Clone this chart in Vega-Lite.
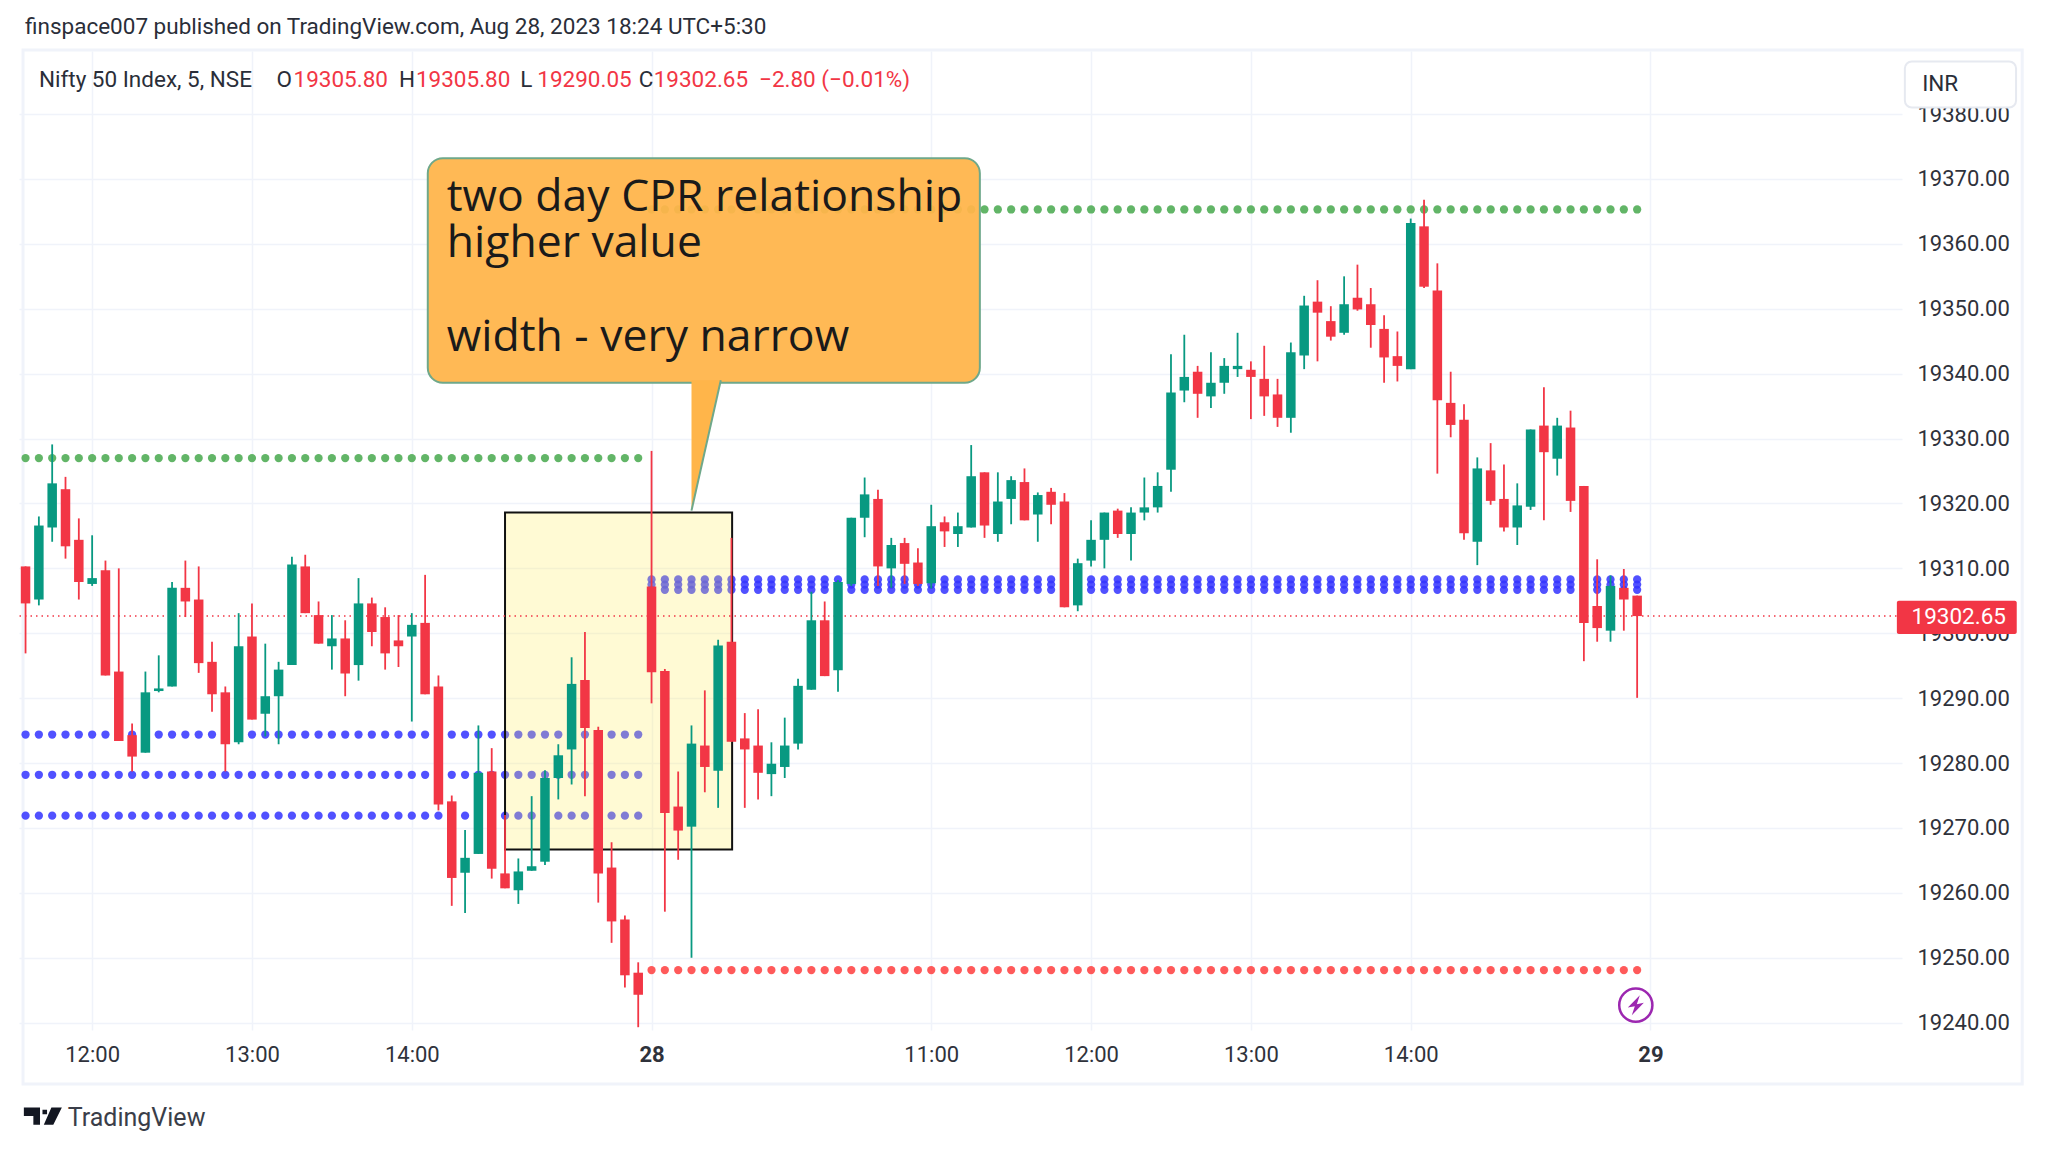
{
  "$schema": "https://vega.github.io/schema/vega-lite/v6.json",
  "width": 1883,
  "height": 979,
  "autosize": {"type": "none"},
  "padding": {"left": 19, "top": 51, "right": 146, "bottom": 122},
  "background": "#ffffff",
  "resolve": {"scale": {"color": "independent"}},
  "config": {
    "view": {"stroke": null},
    "text": {"font": "Roboto"},
    "axis": {"labelFont": "Roboto", "labelFontSize": 22, "labelColor": "#2f323b", "gridColor": "#f0f3fa", "gridWidth": 1.5, "domain": false, "ticks": false}
  },
  "datasets": {
    "bars": [
      {"i":-5,"o":19310.3,"h":19310.3,"l":19296.9,"c":19304.6,"R":19327,"TC":19284.4,"P":19278.2,"BC":19271.9},
      {"i":-4,"o":19305.2,"h":19318,"l":19304.3,"c":19316.6,"R":19327,"TC":19284.4,"P":19278.2,"BC":19271.9},
      {"i":-3,"o":19316.3,"h":19329.1,"l":19314.1,"c":19323.1,"R":19327,"TC":19284.4,"P":19278.2,"BC":19271.9},
      {"i":-2,"o":19322.2,"h":19324.1,"l":19311.5,"c":19313.4,"R":19327,"TC":19284.4,"P":19278.2,"BC":19271.9},
      {"i":-1,"o":19314.4,"h":19317.7,"l":19305.2,"c":19307.9,"R":19327,"TC":19284.4,"P":19278.2,"BC":19271.9},
      {"i":0,"o":19307.6,"h":19315.1,"l":19307.3,"c":19308.5,"R":19327,"TC":19284.4,"P":19278.2,"BC":19271.9},
      {"i":1,"o":19309.7,"h":19311.2,"l":19293.5,"c":19293.5,"R":19327,"TC":19284.4,"P":19278.2,"BC":19271.9},
      {"i":2,"o":19294.1,"h":19310,"l":19283.4,"c":19283.4,"R":19327,"TC":19284.4,"P":19278.2,"BC":19271.9},
      {"i":3,"o":19284.3,"h":19286.1,"l":19278.7,"c":19281,"R":19327,"TC":19284.4,"P":19278.2,"BC":19271.9},
      {"i":4,"o":19281.6,"h":19294.1,"l":19281.6,"c":19290.9,"R":19327,"TC":19284.4,"P":19278.2,"BC":19271.9},
      {"i":5,"o":19291.1,"h":19296.6,"l":19290.9,"c":19291.5,"R":19327,"TC":19284.4,"P":19278.2,"BC":19271.9},
      {"i":6,"o":19291.8,"h":19307.9,"l":19291.8,"c":19307,"R":19327,"TC":19284.4,"P":19278.2,"BC":19271.9},
      {"i":7,"o":19307,"h":19311.2,"l":19302.5,"c":19304.9,"R":19327,"TC":19284.4,"P":19278.2,"BC":19271.9},
      {"i":8,"o":19305.2,"h":19310.3,"l":19293.9,"c":19295.4,"R":19327,"TC":19284.4,"P":19278.2,"BC":19271.9},
      {"i":9,"o":19295.6,"h":19298.7,"l":19287.9,"c":19290.6,"R":19327,"TC":19284.4,"P":19278.2,"BC":19271.9},
      {"i":10,"o":19290.9,"h":19291.8,"l":19278.7,"c":19282.9,"R":19327,"TC":19284.4,"P":19278.2,"BC":19271.9},
      {"i":11,"o":19283.2,"h":19303.1,"l":19282.9,"c":19298,"R":19327,"TC":19284.4,"P":19278.2,"BC":19271.9},
      {"i":12,"o":19299.5,"h":19304.6,"l":19286.7,"c":19286.7,"R":19327,"TC":19284.4,"P":19278.2,"BC":19271.9},
      {"i":13,"o":19287.6,"h":19298.4,"l":19284.1,"c":19290.3,"R":19327,"TC":19284.4,"P":19278.2,"BC":19271.9},
      {"i":14,"o":19290.3,"h":19295.6,"l":19282.9,"c":19294.4,"R":19327,"TC":19284.4,"P":19278.2,"BC":19271.9},
      {"i":15,"o":19295.1,"h":19311.8,"l":19295.1,"c":19310.6,"R":19327,"TC":19284.4,"P":19278.2,"BC":19271.9},
      {"i":16,"o":19310.3,"h":19312.1,"l":19303.1,"c":19303.1,"R":19327,"TC":19284.4,"P":19278.2,"BC":19271.9},
      {"i":17,"o":19302.8,"h":19304.9,"l":19298.4,"c":19298.4,"R":19327,"TC":19284.4,"P":19278.2,"BC":19271.9},
      {"i":18,"o":19298,"h":19302.8,"l":19294.4,"c":19299.2,"R":19327,"TC":19284.4,"P":19278.2,"BC":19271.9},
      {"i":19,"o":19299.2,"h":19302,"l":19290.3,"c":19293.8,"R":19327,"TC":19284.4,"P":19278.2,"BC":19271.9},
      {"i":20,"o":19295.1,"h":19308.5,"l":19292.7,"c":19304.6,"R":19327,"TC":19284.4,"P":19278.2,"BC":19271.9},
      {"i":21,"o":19304.6,"h":19305.5,"l":19298,"c":19300.2,"R":19327,"TC":19284.4,"P":19278.2,"BC":19271.9},
      {"i":22,"o":19302.5,"h":19304,"l":19294.4,"c":19296.9,"R":19327,"TC":19284.4,"P":19278.2,"BC":19271.9},
      {"i":23,"o":19298.9,"h":19302.8,"l":19294.8,"c":19298,"R":19327,"TC":19284.4,"P":19278.2,"BC":19271.9},
      {"i":24,"o":19299.5,"h":19303.1,"l":19286.4,"c":19301.3,"R":19327,"TC":19284.4,"P":19278.2,"BC":19271.9},
      {"i":25,"o":19301.6,"h":19309,"l":19290.6,"c":19290.6,"R":19327,"TC":19284.4,"P":19278.2,"BC":19271.9},
      {"i":26,"o":19291.8,"h":19293.5,"l":19272.7,"c":19273.6,"R":19327,"TC":19284.4,"P":19278.2,"BC":19271.9},
      {"i":27,"o":19274.1,"h":19275,"l":19258,"c":19262.3,"R":19327,"TC":19284.4,"P":19278.2,"BC":19271.9},
      {"i":28,"o":19263.1,"h":19269.7,"l":19256.9,"c":19265.4,"R":19327,"TC":19284.4,"P":19278.2,"BC":19271.9},
      {"i":29,"o":19266,"h":19285.8,"l":19266,"c":19278.5,"R":19327,"TC":19284.4,"P":19278.2,"BC":19271.9},
      {"i":30,"o":19278.7,"h":19282.3,"l":19262.2,"c":19263.7,"R":19327,"TC":19284.4,"P":19278.2,"BC":19271.9},
      {"i":31,"o":19263,"h":19272,"l":19260.7,"c":19260.7,"R":19327,"TC":19284.4,"P":19278.2,"BC":19271.9},
      {"i":32,"o":19260.4,"h":19265.3,"l":19258.3,"c":19263.3,"R":19327,"TC":19284.4,"P":19278.2,"BC":19271.9},
      {"i":33,"o":19263.4,"h":19274.9,"l":19263.4,"c":19264.1,"R":19327,"TC":19284.4,"P":19278.2,"BC":19271.9},
      {"i":34,"o":19264.8,"h":19278.9,"l":19264.3,"c":19277.7,"R":19327,"TC":19284.4,"P":19278.2,"BC":19271.9},
      {"i":35,"o":19277.7,"h":19282.9,"l":19274.4,"c":19281.2,"R":19327,"TC":19284.4,"P":19278.2,"BC":19271.9},
      {"i":36,"o":19282.1,"h":19296.3,"l":19276.7,"c":19292.2,"R":19327,"TC":19284.4,"P":19278.2,"BC":19271.9},
      {"i":37,"o":19292.8,"h":19300.2,"l":19274.9,"c":19285.4,"R":19327,"TC":19284.4,"P":19278.2,"BC":19271.9},
      {"i":38,"o":19285.1,"h":19285.6,"l":19258.5,"c":19263,"R":19327,"TC":19284.4,"P":19278.2,"BC":19271.9},
      {"i":39,"o":19263.9,"h":19267.8,"l":19252.3,"c":19255.6,"R":19327,"TC":19284.4,"P":19278.2,"BC":19271.9},
      {"i":40,"o":19255.9,"h":19256.5,"l":19245.4,"c":19247.3,"R":19327,"TC":19284.4,"P":19278.2,"BC":19271.9},
      {"i":41,"o":19247.7,"h":19249.3,"l":19239.3,"c":19244.3,"R":19327,"TC":19284.4,"P":19278.2,"BC":19271.9},
      {"i":42,"o":19307.2,"h":19328.1,"l":19289.2,"c":19294,"R":19365.3,"S":19248.1,"TC":19308.3,"P":19307.5,"BC":19306.7},
      {"i":43,"o":19294.2,"h":19294.5,"l":19257.1,"c":19272.3,"R":19365.3,"S":19248.1,"TC":19308.3,"P":19307.5,"BC":19306.7},
      {"i":44,"o":19273.3,"h":19278.7,"l":19265.1,"c":19269.6,"R":19365.3,"S":19248.1,"TC":19308.3,"P":19307.5,"BC":19306.7},
      {"i":45,"o":19270.2,"h":19285.8,"l":19250,"c":19283,"R":19365.3,"S":19248.1,"TC":19308.3,"P":19307.5,"BC":19306.7},
      {"i":46,"o":19282.7,"h":19291.2,"l":19275.5,"c":19279.4,"R":19365.3,"S":19248.1,"TC":19308.3,"P":19307.5,"BC":19306.7},
      {"i":47,"o":19278.8,"h":19299,"l":19273.1,"c":19298.1,"R":19365.3,"S":19248.1,"TC":19308.3,"P":19307.5,"BC":19306.7},
      {"i":48,"o":19298.7,"h":19314.7,"l":19283.3,"c":19283.3,"R":19365.3,"S":19248.1,"TC":19308.3,"P":19307.5,"BC":19306.7},
      {"i":49,"o":19283.8,"h":19287.7,"l":19273.1,"c":19282.1,"R":19365.3,"S":19248.1,"TC":19308.3,"P":19307.5,"BC":19306.7},
      {"i":50,"o":19282.7,"h":19288.3,"l":19274.4,"c":19278.5,"R":19365.3,"S":19248.1,"TC":19308.3,"P":19307.5,"BC":19306.7},
      {"i":51,"o":19278.3,"h":19283.2,"l":19274.9,"c":19279.9,"R":19365.3,"S":19248.1,"TC":19308.3,"P":19307.5,"BC":19306.7},
      {"i":52,"o":19279.4,"h":19287,"l":19277.7,"c":19282.7,"R":19365.3,"S":19248.1,"TC":19308.3,"P":19307.5,"BC":19306.7},
      {"i":53,"o":19283,"h":19293,"l":19282.1,"c":19291.9,"R":19365.3,"S":19248.1,"TC":19308.3,"P":19307.5,"BC":19306.7},
      {"i":54,"o":19291.3,"h":19306.4,"l":19291.3,"c":19302,"R":19365.3,"S":19248.1,"TC":19308.3,"P":19307.5,"BC":19306.7},
      {"i":55,"o":19302,"h":19304.9,"l":19293.4,"c":19293.4,"R":19365.3,"S":19248.1,"TC":19308.3,"P":19307.5,"BC":19306.7},
      {"i":56,"o":19294.3,"h":19308.2,"l":19291,"c":19307.9,"R":19365.3,"S":19248.1,"TC":19308.3,"P":19307.5,"BC":19306.7},
      {"i":57,"o":19307.6,"h":19317.8,"l":19307.3,"c":19317.8,"R":19365.3,"S":19248.1,"TC":19308.3,"P":19307.5,"BC":19306.7},
      {"i":58,"o":19317.8,"h":19324,"l":19314.8,"c":19321.4,"R":19365.3,"S":19248.1,"TC":19308.3,"P":19307.5,"BC":19306.7},
      {"i":59,"o":19320.7,"h":19322.1,"l":19307.3,"c":19310.3,"R":19365.3,"S":19248.1,"TC":19308.3,"P":19307.5,"BC":19306.7},
      {"i":60,"o":19310,"h":19314.7,"l":19307,"c":19313.6,"R":19365.3,"S":19248.1,"TC":19308.3,"P":19307.5,"BC":19306.7},
      {"i":61,"o":19313.9,"h":19314.7,"l":19307.6,"c":19310.7,"R":19365.3,"S":19248.1,"TC":19308.3,"P":19307.5,"BC":19306.7},
      {"i":62,"o":19310.9,"h":19313.1,"l":19307.3,"c":19307.6,"R":19365.3,"S":19248.1,"TC":19308.3,"P":19307.5,"BC":19306.7},
      {"i":63,"o":19307.7,"h":19319.8,"l":19306.9,"c":19316.5,"R":19365.3,"S":19248.1,"TC":19308.3,"P":19307.5,"BC":19306.7},
      {"i":64,"o":19317.1,"h":19318,"l":19313.3,"c":19315.7,"R":19365.3,"S":19248.1,"TC":19308.3,"P":19307.5,"BC":19306.7},
      {"i":65,"o":19315.3,"h":19318.6,"l":19313.3,"c":19316.5,"R":19365.3,"S":19248.1,"TC":19308.3,"P":19307.5,"BC":19306.7},
      {"i":66,"o":19316.3,"h":19329,"l":19316.3,"c":19324.2,"R":19365.3,"S":19248.1,"TC":19308.3,"P":19307.5,"BC":19306.7},
      {"i":67,"o":19324.8,"h":19324.8,"l":19314.7,"c":19316.6,"R":19365.3,"S":19248.1,"TC":19308.3,"P":19307.5,"BC":19306.7},
      {"i":68,"o":19315.3,"h":19324.8,"l":19314.1,"c":19320.3,"R":19365.3,"S":19248.1,"TC":19308.3,"P":19307.5,"BC":19306.7},
      {"i":69,"o":19320.7,"h":19324.2,"l":19316.8,"c":19323.6,"R":19365.3,"S":19248.1,"TC":19308.3,"P":19307.5,"BC":19306.7},
      {"i":70,"o":19323.3,"h":19325.4,"l":19317.4,"c":19317.4,"R":19365.3,"S":19248.1,"TC":19308.3,"P":19307.5,"BC":19306.7},
      {"i":71,"o":19318.3,"h":19321.7,"l":19314.1,"c":19321.3,"R":19365.3,"S":19248.1,"TC":19308.3,"P":19307.5,"BC":19306.7},
      {"i":72,"o":19321.8,"h":19322.4,"l":19316.8,"c":19319.8,"R":19365.3,"S":19248.1,"TC":19308.3,"P":19307.5,"BC":19306.7},
      {"i":73,"o":19320.3,"h":19321.6,"l":19304,"c":19304,"R":19365.3,"S":19248.1,"TC":19308.3,"P":19307.5,"BC":19306.7},
      {"i":74,"o":19304.3,"h":19311.5,"l":19303.4,"c":19310.8,"R":19365.3,"S":19248.1,"TC":19308.3,"P":19307.5,"BC":19306.7},
      {"i":75,"o":19311.2,"h":19317.4,"l":19310.3,"c":19314.4,"R":19365.3,"S":19248.1,"TC":19308.3,"P":19307.5,"BC":19306.7},
      {"i":76,"o":19314.4,"h":19318.6,"l":19310,"c":19318.6,"R":19365.3,"S":19248.1,"TC":19308.3,"P":19307.5,"BC":19306.7},
      {"i":77,"o":19318.9,"h":19319.2,"l":19314.7,"c":19315.3,"R":19365.3,"S":19248.1,"TC":19308.3,"P":19307.5,"BC":19306.7},
      {"i":78,"o":19315.3,"h":19319.4,"l":19311.2,"c":19318.6,"R":19365.3,"S":19248.1,"TC":19308.3,"P":19307.5,"BC":19306.7},
      {"i":79,"o":19318.6,"h":19324,"l":19317.4,"c":19319.4,"R":19365.3,"S":19248.1,"TC":19308.3,"P":19307.5,"BC":19306.7},
      {"i":80,"o":19319.4,"h":19324.8,"l":19318.6,"c":19322.7,"R":19365.3,"S":19248.1,"TC":19308.3,"P":19307.5,"BC":19306.7},
      {"i":81,"o":19325.2,"h":19343,"l":19321.8,"c":19337.1,"R":19365.3,"S":19248.1,"TC":19308.3,"P":19307.5,"BC":19306.7},
      {"i":82,"o":19337.4,"h":19346,"l":19335.6,"c":19339.5,"R":19365.3,"S":19248.1,"TC":19308.3,"P":19307.5,"BC":19306.7},
      {"i":83,"o":19340.3,"h":19341.2,"l":19333.2,"c":19336.9,"R":19365.3,"S":19248.1,"TC":19308.3,"P":19307.5,"BC":19306.7},
      {"i":84,"o":19336.5,"h":19343.3,"l":19334.7,"c":19338.6,"R":19365.3,"S":19248.1,"TC":19308.3,"P":19307.5,"BC":19306.7},
      {"i":85,"o":19338.6,"h":19342.4,"l":19336.9,"c":19341.2,"R":19365.3,"S":19248.1,"TC":19308.3,"P":19307.5,"BC":19306.7},
      {"i":86,"o":19340.7,"h":19346.3,"l":19339.5,"c":19341.2,"R":19365.3,"S":19248.1,"TC":19308.3,"P":19307.5,"BC":19306.7},
      {"i":87,"o":19340.6,"h":19341.9,"l":19333,"c":19339.5,"R":19365.3,"S":19248.1,"TC":19308.3,"P":19307.5,"BC":19306.7},
      {"i":88,"o":19339.2,"h":19344.3,"l":19333.5,"c":19336.5,"R":19365.3,"S":19248.1,"TC":19308.3,"P":19307.5,"BC":19306.7},
      {"i":89,"o":19336.8,"h":19339.2,"l":19331.8,"c":19333.2,"R":19365.3,"S":19248.1,"TC":19308.3,"P":19307.5,"BC":19306.7},
      {"i":90,"o":19333.2,"h":19344.8,"l":19330.9,"c":19343.3,"R":19365.3,"S":19248.1,"TC":19308.3,"P":19307.5,"BC":19306.7},
      {"i":91,"o":19342.8,"h":19352,"l":19340.7,"c":19350.5,"R":19365.3,"S":19248.1,"TC":19308.3,"P":19307.5,"BC":19306.7},
      {"i":92,"o":19351.1,"h":19354.4,"l":19341.9,"c":19349.4,"R":19365.3,"S":19248.1,"TC":19308.3,"P":19307.5,"BC":19306.7},
      {"i":93,"o":19348.1,"h":19350.4,"l":19345.1,"c":19345.7,"R":19365.3,"S":19248.1,"TC":19308.3,"P":19307.5,"BC":19306.7},
      {"i":94,"o":19346.3,"h":19355,"l":19346,"c":19350.7,"R":19365.3,"S":19248.1,"TC":19308.3,"P":19307.5,"BC":19306.7},
      {"i":95,"o":19351.7,"h":19356.8,"l":19349.7,"c":19349.9,"R":19365.3,"S":19248.1,"TC":19308.3,"P":19307.5,"BC":19306.7},
      {"i":96,"o":19350.7,"h":19353.2,"l":19344,"c":19347.5,"R":19365.3,"S":19248.1,"TC":19308.3,"P":19307.5,"BC":19306.7},
      {"i":97,"o":19346.9,"h":19349,"l":19338.6,"c":19342.5,"R":19365.3,"S":19248.1,"TC":19308.3,"P":19307.5,"BC":19306.7},
      {"i":98,"o":19342.7,"h":19346.5,"l":19338.8,"c":19341.2,"R":19365.3,"S":19248.1,"TC":19308.3,"P":19307.5,"BC":19306.7},
      {"i":99,"o":19340.7,"h":19363.9,"l":19340.7,"c":19363.2,"R":19365.3,"S":19248.1,"TC":19308.3,"P":19307.5,"BC":19306.7},
      {"i":100,"o":19362.7,"h":19366.8,"l":19353.2,"c":19353.4,"R":19365.3,"S":19248.1,"TC":19308.3,"P":19307.5,"BC":19306.7},
      {"i":101,"o":19352.8,"h":19357,"l":19324.6,"c":19335.9,"R":19365.3,"S":19248.1,"TC":19308.3,"P":19307.5,"BC":19306.7},
      {"i":102,"o":19335.5,"h":19340.3,"l":19330.2,"c":19332.1,"R":19365.3,"S":19248.1,"TC":19308.3,"P":19307.5,"BC":19306.7},
      {"i":103,"o":19332.9,"h":19335.3,"l":19314.4,"c":19315.4,"R":19365.3,"S":19248.1,"TC":19308.3,"P":19307.5,"BC":19306.7},
      {"i":104,"o":19314.1,"h":19327.1,"l":19310.5,"c":19325.4,"R":19365.3,"S":19248.1,"TC":19308.3,"P":19307.5,"BC":19306.7},
      {"i":105,"o":19325.1,"h":19329.3,"l":19319.8,"c":19320.4,"R":19365.3,"S":19248.1,"TC":19308.3,"P":19307.5,"BC":19306.7},
      {"i":106,"o":19320.7,"h":19326,"l":19315.7,"c":19316.3,"R":19365.3,"S":19248.1,"TC":19308.3,"P":19307.5,"BC":19306.7},
      {"i":107,"o":19316.3,"h":19323.1,"l":19313.6,"c":19319.7,"R":19365.3,"S":19248.1,"TC":19308.3,"P":19307.5,"BC":19306.7},
      {"i":108,"o":19319.5,"h":19331.4,"l":19319,"c":19331.4,"R":19365.3,"S":19248.1,"TC":19308.3,"P":19307.5,"BC":19306.7},
      {"i":109,"o":19332,"h":19337.9,"l":19317.4,"c":19327.9,"R":19365.3,"S":19248.1,"TC":19308.3,"P":19307.5,"BC":19306.7},
      {"i":110,"o":19326.9,"h":19333.2,"l":19324.3,"c":19332,"R":19365.3,"S":19248.1,"TC":19308.3,"P":19307.5,"BC":19306.7},
      {"i":111,"o":19331.7,"h":19334.3,"l":19318.7,"c":19320.4,"R":19365.3,"S":19248.1,"TC":19308.3,"P":19307.5,"BC":19306.7},
      {"i":112,"o":19322.7,"h":19322.7,"l":19295.7,"c":19301.6,"R":19365.3,"S":19248.1,"TC":19308.3,"P":19307.5,"BC":19306.7},
      {"i":113,"o":19304.2,"h":19311.4,"l":19298.7,"c":19300.8,"R":19365.3,"S":19248.1,"TC":19308.3,"P":19307.5,"BC":19306.7},
      {"i":114,"o":19300.4,"h":19308.9,"l":19298.7,"c":19307.3,"R":19365.3,"S":19248.1,"TC":19308.3,"P":19307.5,"BC":19306.7},
      {"i":115,"o":19307,"h":19309.9,"l":19300.4,"c":19305.2,"R":19365.3,"S":19248.1,"TC":19308.3,"P":19307.5,"BC":19306.7},
      {"i":116,"o":19305.8,"h":19305.8,"l":19290.05,"c":19302.65,"R":19365.3,"S":19248.1,"TC":19308.3,"P":19307.5,"BC":19306.7}
    ]
  },
  "layer": [
    {
      "data": {"values": [{"i": -5.19, "i2": 144.91, "p": 19389.88, "p2": 19230.55}]},
      "mark": {"type": "rect", "fill": null, "stroke": "#f0f3fa", "strokeWidth": 3, "clip": false},
      "encoding": {
        "x": {"field": "i", "type": "quantitative", "title": null, "scale": {"domain": [-5.116, 135.51], "nice": false, "zero": false},
          "axis": {"values": [0, 12, 24, 42, 63, 75, 87, 99, 117], "grid": true, "labelPadding": 14,
            "labelExpr": "{'0':'12:00','12':'13:00','24':'14:00','42':'28','63':'11:00','75':'12:00','87':'13:00','99':'14:00','117':'29'}[datum.value]",
            "labelFontWeight": {"condition": {"test": "datum.value == 42 || datum.value == 117", "value": "bold"}, "value": "normal"}}},
        "x2": {"field": "i2"},
        "y": {"field": "p", "type": "quantitative", "title": null, "scale": {"domain": [19238.87, 19389.72], "nice": false, "zero": false},
          "axis": {"orient": "right", "values": [19240,19250,19260,19270,19280,19290,19300,19310,19320,19330,19340,19350,19360,19370,19380], "grid": true, "format": ".2f", "labelPadding": 15, "labelAlign": "left"}},
        "y2": {"field": "p2"}
      }
    },
    {
      "data": {"name": "bars"},
      "transform": [
        {"fold": ["R", "S", "TC", "P", "BC"], "as": ["level", "price"]},
        {"filter": "isValid(datum.price)"}
      ],
      "mark": {"type": "point", "filled": true, "size": 68, "opacity": 0.85, "clip": true},
      "encoding": {
        "x": {"field": "i", "type": "quantitative", "title": null, "scale": {"domain": [-5.116, 135.51], "nice": false, "zero": false}},
        "y": {"field": "price", "type": "quantitative", "title": null, "scale": {"domain": [19238.87, 19389.72], "nice": false, "zero": false}},
        "color": {"field": "level", "type": "nominal", "legend": null,
          "scale": {"domain": ["R", "S", "TC", "P", "BC"], "range": ["#47a84c", "#ff3d3d", "#3333ff", "#3333ff", "#3333ff"]}}
      }
    },
    {
      "data": {"values": [{"i": 31, "i2": 48.05, "p": 19318.6, "p2": 19266.7}]},
      "mark": {"type": "rect", "fill": "#ffeb60", "fillOpacity": 0.27, "stroke": "#111111", "strokeWidth": 2},
      "encoding": {
        "x": {"field": "i", "type": "quantitative", "title": null, "scale": {"domain": [-5.116, 135.51], "nice": false, "zero": false}},
        "x2": {"field": "i2"},
        "y": {"field": "p", "type": "quantitative", "title": null, "scale": {"domain": [19238.87, 19389.72], "nice": false, "zero": false}},
        "y2": {"field": "p2"}
      }
    },
    {
      "data": {"values": [{"p": 19302.65}]},
      "mark": {"type": "rule", "color": "#f23645", "strokeWidth": 1.5, "strokeDash": [1.5, 4]},
      "encoding": {
        "y": {"field": "p", "type": "quantitative", "title": null, "scale": {"domain": [19238.87, 19389.72], "nice": false, "zero": false}}
      }
    },
    {
      "data": {"name": "bars"},
      "mark": {"type": "rule", "strokeWidth": 1.8, "clip": true},
      "encoding": {
        "x": {"field": "i", "type": "quantitative", "title": null, "scale": {"domain": [-5.116, 135.51], "nice": false, "zero": false}},
        "y": {"field": "l", "type": "quantitative", "title": null, "scale": {"domain": [19238.87, 19389.72], "nice": false, "zero": false}},
        "y2": {"field": "h"},
        "color": {"condition": {"test": "datum.c >= datum.o", "value": "#089981"}, "value": "#f23645"}
      }
    },
    {
      "data": {"name": "bars"},
      "mark": {"type": "bar", "size": 9.5, "clip": true},
      "encoding": {
        "x": {"field": "i", "type": "quantitative", "title": null, "scale": {"domain": [-5.116, 135.51], "nice": false, "zero": false}},
        "y": {"field": "o", "type": "quantitative", "title": null, "scale": {"domain": [19238.87, 19389.72], "nice": false, "zero": false}},
        "y2": {"field": "c"},
        "color": {"condition": {"test": "datum.c >= datum.o", "value": "#089981"}, "value": "#f23645"}
      }
    },
    {
      "data": {"values": [{"i": 25.2, "i2": 66.65, "p": 19373.2, "p2": 19338.6}]},
      "mark": {"type": "rect", "fill": "#ffb54a", "fillOpacity": 0.94, "stroke": "#6fa88a", "strokeWidth": 2, "cornerRadius": 15},
      "encoding": {
        "x": {"field": "i", "type": "quantitative", "title": null, "scale": {"domain": [-5.116, 135.51], "nice": false, "zero": false}},
        "x2": {"field": "i2"},
        "y": {"field": "p", "type": "quantitative", "title": null, "scale": {"domain": [19238.87, 19389.72], "nice": false, "zero": false}},
        "y2": {"field": "p2"}
      }
    },
    {
      "data": {"values": [{"i": 45, "p": 19318.9, "p2": 19339}, {"i": 47.2, "p": 19339, "p2": 19339}]},
      "mark": {"type": "area", "color": "#ffb54a", "opacity": 1, "line": {"color": "#6fa88a", "strokeWidth": 2}},
      "encoding": {
        "x": {"field": "i", "type": "quantitative", "title": null, "scale": {"domain": [-5.116, 135.51], "nice": false, "zero": false}},
        "y": {"field": "p", "type": "quantitative", "title": null, "scale": {"domain": [19238.87, 19389.72], "nice": false, "zero": false}},
        "y2": {"field": "p2"}
      }
    },
    {
      "data": {"values": [
        {"i": 26.62, "p": 19367.07, "t": "two day CPR relationship"},
        {"i": 26.62, "p": 19360, "t": "higher value"},
        {"i": 26.62, "p": 19345.5, "t": "width - very narrow"}
      ]},
      "mark": {"type": "text", "align": "left", "baseline": "middle", "font": "Open Sans", "fontSize": 44.5, "color": "#1a1a1a"},
      "encoding": {
        "x": {"field": "i", "type": "quantitative", "title": null, "scale": {"domain": [-5.116, 135.51], "nice": false, "zero": false}},
        "y": {"field": "p", "type": "quantitative", "title": null, "scale": {"domain": [19238.87, 19389.72], "nice": false, "zero": false}},
        "text": {"field": "t"}
      }
    },
    {
      "data": {"values": [{"i": 115.9, "p": 19242.7}]},
      "mark": {"type": "point", "shape": "circle", "size": 1100, "filled": false, "stroke": "#9c27b0", "strokeWidth": 2.5, "opacity": 1},
      "encoding": {
        "x": {"field": "i", "type": "quantitative", "title": null, "scale": {"domain": [-5.116, 135.51], "nice": false, "zero": false}},
        "y": {"field": "p", "type": "quantitative", "title": null, "scale": {"domain": [19238.87, 19389.72], "nice": false, "zero": false}}
      }
    },
    {
      "data": {"values": [{"i": 115.9, "p": 19242.7}]},
      "mark": {"type": "point", "shape": "M0.2,-0.5 L-0.4,0.12 L-0.05,0.05 L-0.2,0.5 L0.4,-0.12 L0.05,-0.05 Z", "size": 1600, "filled": true, "fill": "#9c27b0", "opacity": 1},
      "encoding": {
        "x": {"field": "i", "type": "quantitative", "title": null, "scale": {"domain": [-5.116, 135.51], "nice": false, "zero": false}},
        "y": {"field": "p", "type": "quantitative", "title": null, "scale": {"domain": [19238.87, 19389.72], "nice": false, "zero": false}}
      }
    },
    {
      "data": {"values": [{"i": 135.6, "i2": 144.7, "p": 19238.87, "p2": 19237.3}]},
      "mark": {"type": "rect", "fill": "#ffffff", "clip": false},
      "encoding": {
        "x": {"field": "i", "type": "quantitative", "title": null, "scale": {"domain": [-5.116, 135.51], "nice": false, "zero": false}},
        "x2": {"field": "i2"},
        "y": {"field": "p", "type": "quantitative", "title": null, "scale": {"domain": [19238.87, 19389.72], "nice": false, "zero": false}},
        "y2": {"field": "p2"}
      }
    },
    {
      "data": {"values": [{"i": 136.1, "i2": 144.45, "p": 19388.1, "p2": 19381}]},
      "mark": {"type": "rect", "fill": "#ffffff", "stroke": "#e6e9f0", "strokeWidth": 2, "cornerRadius": 7, "clip": false},
      "encoding": {
        "x": {"field": "i", "type": "quantitative", "title": null, "scale": {"domain": [-5.116, 135.51], "nice": false, "zero": false}},
        "x2": {"field": "i2"},
        "y": {"field": "p", "type": "quantitative", "title": null, "scale": {"domain": [19238.87, 19389.72], "nice": false, "zero": false}},
        "y2": {"field": "p2"}
      }
    },
    {
      "data": {"values": [{"i": 135.5, "i2": 144.5, "p": 19305, "p2": 19299.9}]},
      "mark": {"type": "rect", "fill": "#f23645", "cornerRadius": 2, "clip": false},
      "encoding": {
        "x": {"field": "i", "type": "quantitative", "title": null, "scale": {"domain": [-5.116, 135.51], "nice": false, "zero": false}},
        "x2": {"field": "i2"},
        "y": {"field": "p", "type": "quantitative", "title": null, "scale": {"domain": [19238.87, 19389.72], "nice": false, "zero": false}},
        "y2": {"field": "p2"}
      }
    },
    {
      "data": {"values": [
        {"i": -5.04, "p": 19393.4, "t": "finspace007 published on TradingView.com, Aug 28, 2023 18:24 UTC+5:30", "tone": "dark"},
        {"i": -3.995, "p": 19385.25, "t": "Nifty 50 Index, 5, NSE", "tone": "dark"},
        {"i": 13.85, "p": 19385.25, "t": "O", "tone": "dark"},
        {"i": 15.12, "p": 19385.25, "t": "19305.80", "tone": "red"},
        {"i": 23.04, "p": 19385.25, "t": "H", "tone": "dark"},
        {"i": 24.31, "p": 19385.25, "t": "19305.80", "tone": "red"},
        {"i": 32.15, "p": 19385.25, "t": "L", "tone": "dark"},
        {"i": 33.42, "p": 19385.25, "t": "19290.05", "tone": "red"},
        {"i": 41.04, "p": 19385.25, "t": "C", "tone": "dark"},
        {"i": 42.16, "p": 19385.25, "t": "19302.65", "tone": "red"},
        {"i": 50.07, "p": 19385.25, "t": "−2.80 (−0.01%)", "tone": "red"},
        {"i": 137.4, "p": 19384.6, "t": "INR", "tone": "dark"},
        {"i": 136.6, "p": 19302.5, "t": "19302.65", "tone": "white"}
      ]},
      "mark": {"type": "text", "align": "left", "baseline": "middle", "fontSize": 22.5, "clip": false},
      "encoding": {
        "x": {"field": "i", "type": "quantitative", "title": null, "scale": {"domain": [-5.116, 135.51], "nice": false, "zero": false}},
        "y": {"field": "p", "type": "quantitative", "title": null, "scale": {"domain": [19238.87, 19389.72], "nice": false, "zero": false}},
        "text": {"field": "t"},
        "color": {"field": "tone", "type": "nominal", "legend": null, "scale": {"domain": ["dark", "red", "white"], "range": ["#2a2e39", "#f23645", "#ffffff"]}}
      }
    },
    {
      "data": {"values": [{"i": -1.83, "p": 19225.3, "t": "TradingView"}]},
      "mark": {"type": "text", "align": "left", "baseline": "middle", "fontSize": 25, "color": "#3a3e49", "clip": false},
      "encoding": {
        "x": {"field": "i", "type": "quantitative", "title": null, "scale": {"domain": [-5.116, 135.51], "nice": false, "zero": false}},
        "y": {"field": "p", "type": "quantitative", "title": null, "scale": {"domain": [19238.87, 19389.72], "nice": false, "zero": false}},
        "text": {"field": "t"}
      }
    },
    {
      "data": {"values": [{"i": -3.7, "p": 19225.6}]},
      "mark": {"type": "point", "shape": "M-1,-0.45 L-0.15,-0.45 L-0.15,0.45 L-0.5,0.45 L-0.5,0 L-1,0 Z M-0.02,-0.34 L0.22,-0.34 L0.22,-0.1 L-0.02,-0.1 Z M0.45,-0.45 L1,-0.45 L0.55,0.45 L0.05,0.45 Z", "size": 1444, "filled": true, "fill": "#131722", "opacity": 1},
      "encoding": {
        "x": {"field": "i", "type": "quantitative", "title": null, "scale": {"domain": [-5.116, 135.51], "nice": false, "zero": false}},
        "y": {"field": "p", "type": "quantitative", "title": null, "scale": {"domain": [19238.87, 19389.72], "nice": false, "zero": false}}
      }
    }
  ]
}
